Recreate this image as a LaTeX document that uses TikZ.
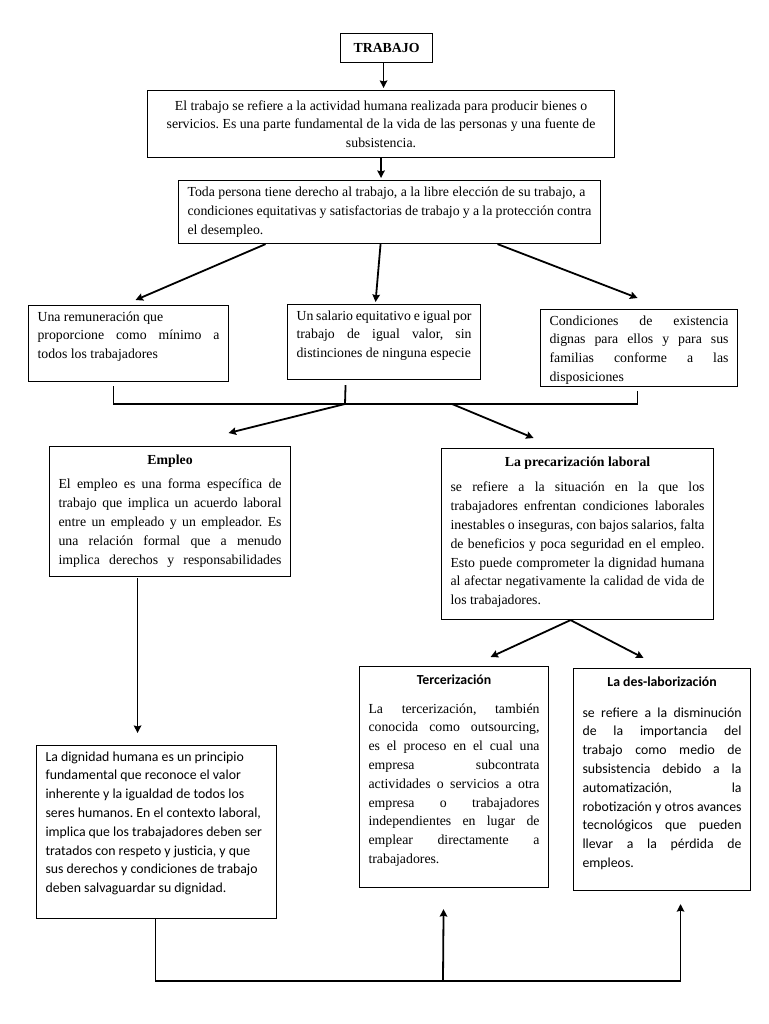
\documentclass[tikz,border=0pt]{standalone}
\usepackage{fontspec}
\usetikzlibrary{arrows.meta}
\setmainfont{Liberation Serif}
\newfontfamily\calibri{Carlito}
\frenchspacing
\newcommand\jl[1]{\makebox[\linewidth][s]{#1}\par}
\newcommand\ttl[2][9pt]{\vspace*{2pt}\makebox[\linewidth]{\bfseries #2}\par\vspace{#1}}
\tikzset{
  box/.style={draw,line width=1.1pt,inner xsep=9pt,inner ysep=6pt,anchor=north west,font=\fontsize{13.8}{18.8}\selectfont},
  flecha/.style={->,line width=1.8pt},
  linea/.style={line width=1.8pt}
}
\begin{document}
\begin{tikzpicture}[x=1pt,y=-1pt,>={Stealth[length=7.5pt,width=7.5pt,inset=1pt]}]
\useasboundingbox (0,0) rectangle (768,1024);
\node[box,minimum width=92pt,minimum height=29pt,inner sep=0pt] (trabajo) at (340,33) {\bfseries TRABAJO};
\node[box] (def) at (147,90) {\parbox[c][55pt][c]{449pt}{\centering El trabajo se refiere a la actividad humana realizada para producir bienes o\\ servicios. Es una parte fundamental de la vida de las personas y una fuente de\\ subsistencia.}};
\node[box] (dere) at (178,180) {\parbox[c][51pt][c]{404pt}{Toda persona tiene derecho al trabajo, a la libre elección de su trabajo, a\\ condiciones equitativas y satisfactorias de trabajo y a la protección contra\\ el desempleo.}};
\node[box] (remun) at (28,305) {\parbox[c][64pt][t]{182pt}{Una remuneración que\\ \jl{proporcione como mínimo a}todos los trabajadores}};
\node[box] (salar) at (287,304) {\parbox[c][63pt][t]{175pt}{\jl{Un salario equitativo e igual por}\jl{trabajo de igual valor, sin}distinciones de ninguna especie}};
\node[box] (cond) at (540,309) {\parbox[c][65pt][t]{179pt}{\jl{Condiciones de existencia}\jl{dignas para ellos y para sus}\jl{familias conforme a las}disposiciones}};
\node[box] (empleo) at (49,446) {\parbox[c][118pt][t]{223pt}{\ttl[6pt]{Empleo}\jl{El empleo es una forma específica de}\jl{trabajo que implica un acuerdo laboral}\jl{entre un empleado y un empleador. Es}\jl{una relación formal que a menudo}\jl{implica derechos y responsabilidades}}};
\node[box] (precar) at (441,448) {\parbox[c][159pt][t]{254pt}{\ttl[7pt]{La precarización laboral}\jl{se refiere a la situación en la que los}\jl{trabajadores enfrentan condiciones laborales}\jl{inestables o inseguras, con bajos salarios, falta}\jl{de beneficios y poca seguridad en el empleo.}\jl{Esto puede comprometer la dignidad humana}\jl{al afectar negativamente la calidad de vida de}los trabajadores.}};
\node[box] (terc) at (359,666) {\parbox[c][209pt][t]{171pt}{\ttl[10pt]{\calibri Tercerización}\jl{La tercerización, también}\jl{conocida como outsourcing,}\jl{es el proceso en el cual una}\jl{empresa subcontrata}\jl{actividades o servicios a otra}\jl{empresa o trabajadores}\jl{independientes en lugar de}\jl{emplear directamente a}trabajadores.}};
\node[box] (des) at (573,668) {\parbox[c][210pt][t]{159pt}{\calibri\ttl[12pt]{La des-laborización}\jl{se refiere a la disminución}\jl{de la importancia del}\jl{trabajo como medio de}\jl{subsistencia debido a la}\jl{automatización, la}\jl{robotización y otros avances}\jl{tecnológicos que pueden}\jl{llevar a la pérdida de}empleos.}};
\node[box] (dig) at (36,745) {\parbox[c][161pt][t]{222pt}{\calibri La dignidad humana es un principio\\ fundamental que reconoce el valor\\ inherente y la igualdad de todos los\\ seres humanos. En el contexto laboral,\\ implica que los trabajadores deben ser\\ tratados con respeto y justicia, y que\\ sus derechos y condiciones de trabajo\\ deben salvaguardar su dignidad.}};
\draw[flecha] ([shift={(-3,0)}]trabajo.south) -- ([shift={(2.5,-2)}]def.north);
\draw[flecha] (def.south) -- ([shift={(-8.5,-2)}]dere.north);
\draw[flecha] ([shift={(-124,0)}]dere.south) -- ([shift={(7,-5)}]remun.north);
\draw[flecha] ([shift={(-9,0)}]dere.south) -- ([shift={(-8.5,-2)}]salar.north);
\draw[flecha] ([shift={(108,0)}]dere.south) -- ([shift={(-1.5,-11)}]cond.north);
\coordinate (union) at (345,404);
\draw[linea] ([shift={(-15,4)}]remun.south) |- (union) -| ([shift={(-1.5,4)}]cond.south);
\draw[linea] ([shift={(-38.5,5)}]salar.south) -- (union);
\draw[flecha] (union) -- ([shift={(58.5,-13)}]empleo.north);
\draw[flecha] ([shift={(107,0)}]union) -- ([shift={(-44,-10)}]precar.north);
\draw[flecha] ([shift={(-32.5,1)}]empleo.south) -- ([shift={(-19,-12)}]dig.north);
\draw[flecha] ([shift={(-7,0)}]precar.south) -- ([shift={(36.5,-9)}]terc.north);
\draw[flecha] ([shift={(-7,0)}]precar.south) -- ([shift={(-18.5,-10)}]des.north);
\coordinate (base) at (443,980);
\draw[linea] ([shift={(-1,0)}]dig.south) |- ([shift={(18.5,90)}]des.south);
\draw[flecha] (base) -- ([shift={(-10.5,21)}]terc.south);
\draw[flecha] ([shift={(18.5,90)}]des.south) -- ([shift={(18.5,13)}]des.south);
\end{tikzpicture}
\end{document}
